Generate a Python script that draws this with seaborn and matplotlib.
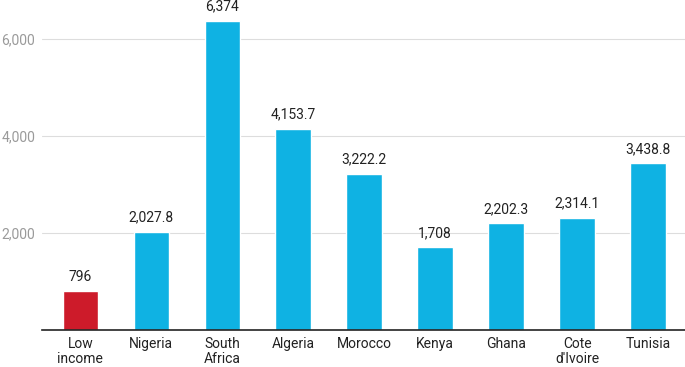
import matplotlib
matplotlib.use("Agg")
import matplotlib.pyplot as plt
import pandas as pd
import seaborn as sns

categories = ["Low\nincome", "Nigeria", "South\nAfrica", "Algeria", "Morocco", "Kenya", "Ghana", "Cote\nd'Ivoire", "Tunisia"]
values = [796, 2027.8, 6374, 4153.7, 3222.2, 1708, 2202.3, 2314.1, 3438.8]
value_labels = ["796", "2,027.8", "6,374", "4,153.7", "3,222.2", "1,708", "2,202.3", "2,314.1", "3,438.8"]
bar_colors = ["#CD1B2A"] + ["#0FB2E3"] * 8

df = pd.DataFrame({"category": categories, "value": values})

sns.set_theme(style="white")
plt.rcParams["font.family"] = ["Roboto", "DejaVu Sans"]

fig = plt.figure(figsize=(6.85, 3.67), dpi=100)
ax = fig.add_axes([0.0613, 0.1008, 0.9387, 0.872])

sns.barplot(data=df, x="category", y="value", hue="category", palette=bar_colors,
            legend=False, width=0.5, saturation=1, ax=ax)

for i, (v, lab) in enumerate(zip(values, value_labels)):
    ax.text(i, v + 150, lab, ha="center", va="bottom", fontsize=10, color="#222222", clip_on=False)

ax.set_xlim(-0.54, 8.52)
ax.set_ylim(0, 6600)
ax.set_yticks([2000, 4000, 6000])
ax.set_yticklabels(["2,000", "4,000", "6,000"])
ax.yaxis.grid(True, color="#dddddd", linewidth=0.8)
ax.set_axisbelow(True)
ax.tick_params(axis="y", length=0, pad=5, labelsize=10, labelcolor="#9a9a9a")
ax.tick_params(axis="x", length=0, pad=5, labelsize=10, labelcolor="#222222")
for t in ax.get_xticklabels():
    t.set_linespacing(1.05)
ax.set_xlabel("")
ax.set_ylabel("")
for side in ["top", "right", "left"]:
    ax.spines[side].set_visible(False)
ax.spines["bottom"].set_color("#222222")
ax.spines["bottom"].set_linewidth(1.2)

fig.savefig("out.png", dpi=100)
